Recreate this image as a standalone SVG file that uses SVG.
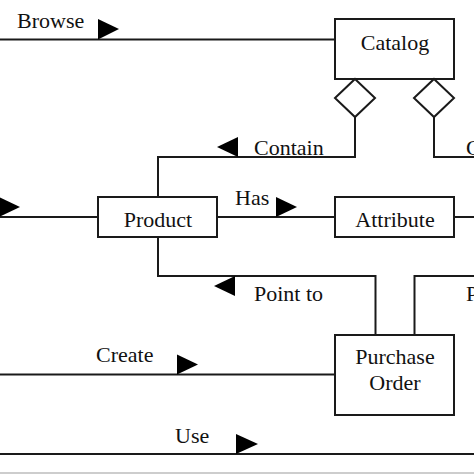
<svg xmlns="http://www.w3.org/2000/svg" width="474" height="474" viewBox="0 0 474 474">
<style>
.box{fill:#fff;stroke:#1a1a1a;stroke-width:2}
.ln{fill:none;stroke:#1a1a1a;stroke-width:2}
.ar{fill:#000;stroke:none}
.t{font-family:"Liberation Serif","Times New Roman",serif;font-size:22px;fill:#111}
.c{text-anchor:middle}
</style>
<rect x="0" y="0" width="474" height="474" fill="#fff"/>
<rect x="0" y="472" width="474" height="2" fill="#cdcdcd"/>
<g id="connectors">
  <!-- Browse -->
  <path class="ln" d="M0 39.5H335"/>
  <polygon class="ar" points="98,19 98,39.5 119,29"/>
  <text class="t" x="17" y="28">Browse</text>
  <!-- Contain (left) -->
  <path class="ln" d="M355 117V157H158V197"/>
  <polygon class="ar" points="238,137 238,157 217,147"/>
  <text class="t" x="254" y="155">Contain</text>
  <!-- Contain (right, cut) -->
  <path class="ln" d="M434 117V157H474"/>
  <text class="t" x="466" y="155">C</text>
  <!-- left incoming to Product -->
  <path class="ln" d="M0 217H98"/>
  <polygon class="ar" points="-1,197 -1,217 20,207"/>
  <!-- Has -->
  <path class="ln" d="M217 217H335"/>
  <polygon class="ar" points="276,197 276,217 297,207"/>
  <text class="t" x="235" y="205">Has</text>
  <!-- Attribute out right -->
  <path class="ln" d="M454 217H474"/>
  <!-- Point to -->
  <path class="ln" d="M158 237V276H375.5V335"/>
  <polygon class="ar" points="235,276 235,296 214,286"/>
  <text class="t" x="254" y="301">Point to</text>
  <!-- right from PO -->
  <path class="ln" d="M414.5 335V276H474"/>
  <text class="t" x="466" y="301">P</text>
  <!-- Create -->
  <path class="ln" d="M0 374.5H335"/>
  <polygon class="ar" points="177,354.5 177,374.5 198,364.5"/>
  <text class="t" x="96" y="362">Create</text>
  <!-- Use -->
  <path class="ln" d="M0 454H474"/>
  <polygon class="ar" points="236,434 236,454 258,444"/>
  <text class="t" x="175" y="443">Use</text>
</g>
<g id="catalog">
  <rect class="box" x="335" y="19" width="119" height="60"/>
  <text class="t c" x="395" y="50">Catalog</text>
  <polygon class="box" points="355,79 375,98 355,117 335,98"/>
  <polygon class="box" points="434,79 454,98 434,117 414,98"/>
</g>
<g id="product">
  <rect class="box" x="98" y="197" width="119" height="40"/>
  <text class="t c" x="158" y="227">Product</text>
</g>
<g id="attribute">
  <rect class="box" x="335" y="197" width="119" height="40"/>
  <text class="t c" x="395" y="227">Attribute</text>
</g>
<g id="purchase-order">
  <rect class="box" x="335" y="335" width="119" height="80"/>
  <text class="t c" x="395" y="364">Purchase</text>
  <text class="t c" x="395" y="390">Order</text>
</g>
</svg>
